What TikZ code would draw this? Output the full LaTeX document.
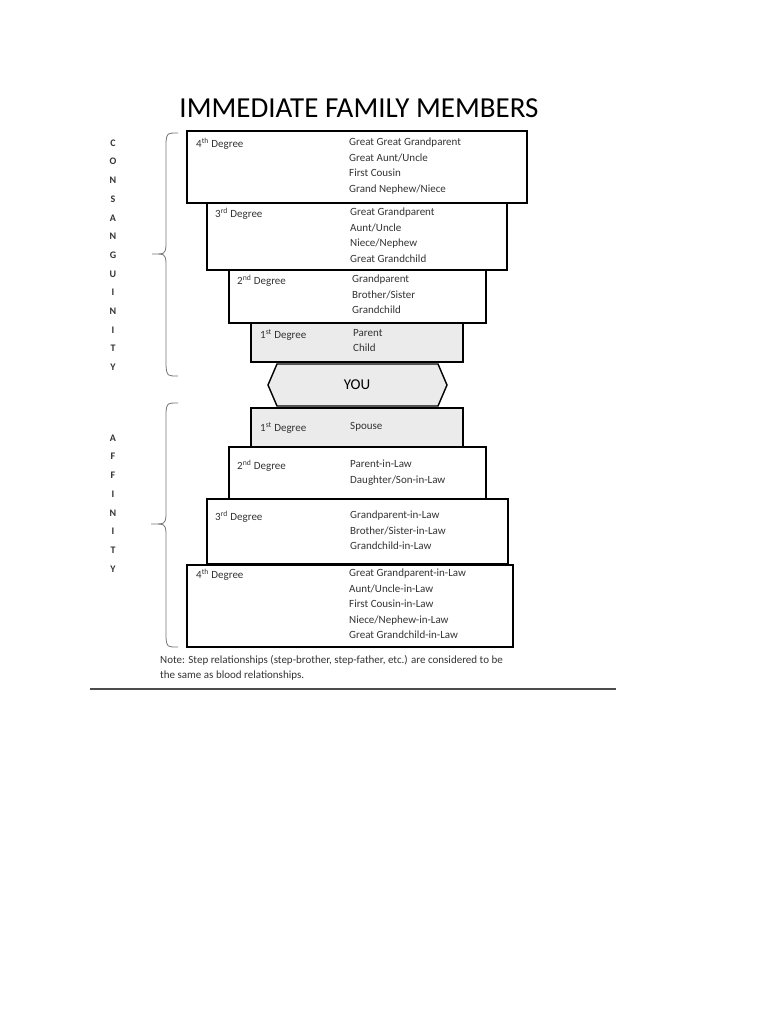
\documentclass[tikz,border=0pt]{standalone}
\usepackage{fontspec}
\setmainfont{Carlito}
\begin{document}
\begin{tikzpicture}[x=1pt,y=-1pt,
  lvl/.style={draw=black,line width=2.2pt},
  first/.style={lvl,fill=black!8!white},
  txt/.style={anchor=north west,align=left,font=\fontsize{11}{15.5}\selectfont,inner sep=0pt,text=black!80},
  vert/.style={font=\bfseries\fontsize{10}{12}\selectfont,text=black!80},
  brace/.style={draw=black!55,line width=0.8pt}]
\useasboundingbox (0,0) rectangle (768,1024);
\node (title) at (359,108) {\fontsize{29}{32}\selectfont IMMEDIATE FAMILY MEMBERS};
% consanguinity
\draw[lvl] (187,131) rectangle (527,203);
\node[txt] (c4a) at (196,138) {4\textsuperscript{th} Degree};
\node[txt] (c4b) at (349,138) {Great Great Grandparent\\Great Aunt/Uncle\\First Cousin\\Grand Nephew/Niece};
\draw[lvl] (207,203) rectangle (507,270);
\node[txt] (c3a) at (215,208) {3\textsuperscript{rd} Degree};
\node[txt] (c3b) at (350,208) {Great Grandparent\\Aunt/Uncle\\Niece/Nephew\\Great Grandchild};
\draw[lvl] (229,270) rectangle (486,323);
\node[txt] (c2a) at (237,275) {2\textsuperscript{nd} Degree};
\node[txt] (c2b) at (352,275) {Grandparent\\Brother/Sister\\Grandchild};
\draw[first] (251,323) rectangle (463,362);
\node[txt] (c1a) at (260,329) {1\textsuperscript{st} Degree};
\node[txt] (c1b) at (353,329) {Parent\\Child};
% you
\draw[draw=black,line width=1.4pt,fill=black!8!white] (277,364) -- (438,364) -- (447,385) -- (438,406) -- (277,406) -- (268,385) -- cycle;
\node (you) at (357,385) {\fontsize{15}{18}\selectfont YOU};
% affinity
\draw[first] (251,408) rectangle (463,447);
\node[txt] (a1a) at (260,422) {1\textsuperscript{st} Degree};
\node[txt] (a1b) at (350,422) {Spouse};
\draw[lvl] (229,447) rectangle (486,499);
\node[txt] (a2a) at (237,460) {2\textsuperscript{nd} Degree};
\node[txt] (a2b) at (350,460) {Parent-in-Law\\Daughter/Son-in-Law};
\draw[lvl] (207,499) rectangle (508,564);
\node[txt] (a3a) at (215,511) {3\textsuperscript{rd} Degree};
\node[txt] (a3b) at (350,511) {Grandparent-in-Law\\Brother/Sister-in-Law\\Grandchild-in-Law};
\draw[lvl] (187,565) rectangle (513,647);
\node[txt] (a4a) at (196,569) {4\textsuperscript{th} Degree};
\node[txt] (a4b) at (349,569) {Great Grandparent-in-Law\\Aunt/Uncle-in-Law\\First Cousin-in-Law\\Niece/Nephew-in-Law\\Great Grandchild-in-Law};
% vertical words
\foreach \l [count=\i from 0] in {C,O,N,S,A,N,G,U,I,N,I,T,Y}
  \node[vert] at (113,143+18.7*\i) {\l};
\foreach \l [count=\i from 0] in {A,F,F,I,N,I,T,Y}
  \node[vert] at (113,438+18.7*\i) {\l};
% braces
\draw[brace] (178,133) .. controls (167,133) .. (166,142) -- (166,246) .. controls (165,254) .. (152,254) .. controls (165,254) .. (166,262) -- (166,366) .. controls (167,376) .. (178,376);
\draw[brace] (178,403) .. controls (167,403) .. (166,412) -- (166,516) .. controls (165,524) .. (151,524) .. controls (165,524) .. (166,532) -- (166,638) .. controls (167,647) .. (178,647);
% note
\node[txt,anchor=north west] (note) at (160,655) {Note: Step relationships (step-brother, step-father, etc.) are considered to be\\the same as blood relationships.};
\draw[black!70,line width=2.5pt] (90,689) -- (616,689);
\end{tikzpicture}
\end{document}
